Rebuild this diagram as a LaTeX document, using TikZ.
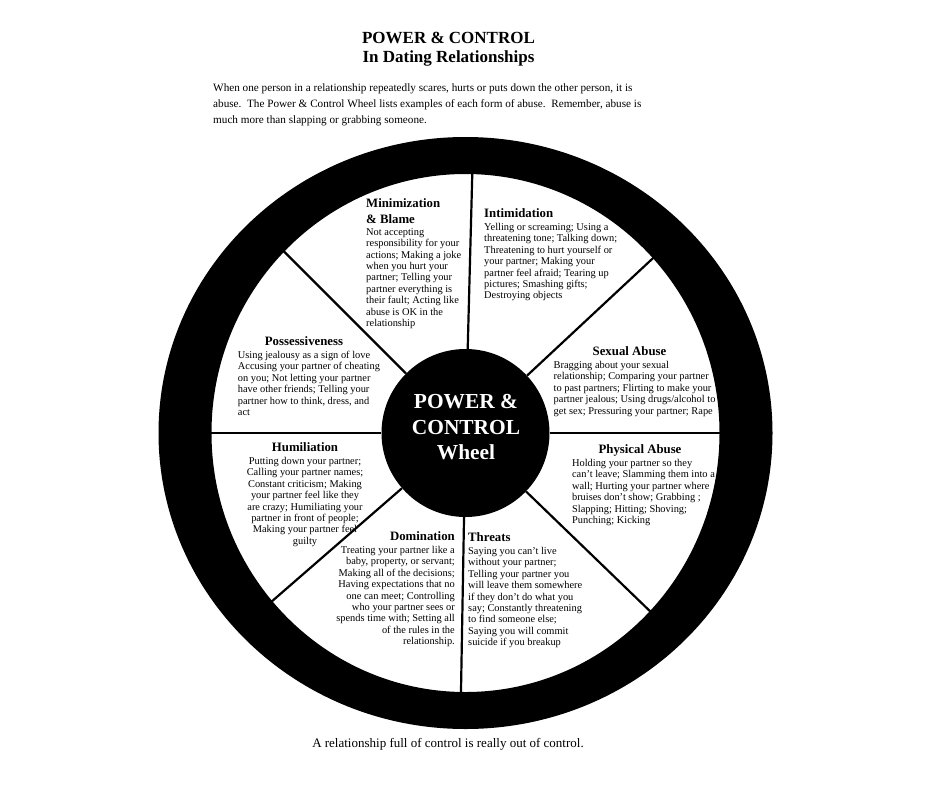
\documentclass[tikz,border=0pt]{standalone}
\usepackage{fontspec}
\setmainfont{Liberation Serif}
\usetikzlibrary{positioning, calc}

\begin{document}
\begin{tikzpicture}[
		x=1pt, y=-1pt,
		% estilos de la rueda
		head/.style = {font=\fontsize{12.8}{15.3}\selectfont\bfseries, inner sep=0pt, text depth=0pt},
		body/.style = {font=\fontsize{10.4}{11.4}\selectfont, inner sep=0pt, align=left},
		spoke/.style = {line width=2.2pt},
		hub/.style = {circle, fill=black, minimum size=168pt, inner sep=0pt},
		node distance=5pt
		]
		\useasboundingbox (0,0) rectangle (940,788);
		
		% --- TITULO ---
		\node [font=\fontsize{17}{19}\selectfont\bfseries, align=center, anchor=north] (title) at (448.5,29)
			{POWER \& CONTROL\\In Dating Relationships};
		\node [font=\fontsize{11.2}{16}\selectfont, align=left, anchor=north west, inner sep=0pt] (intro) at (213,84)
			{When one person in a relationship repeatedly scares, hurts or puts down the other person, it is\\
			abuse.\ \ The Power \& Control Wheel lists examples of each form of abuse.\ \ Remember, abuse is\\
			much more than slapping or grabbing someone.};
		
		% --- RUEDA ---
		\coordinate (c) at (465.5,433);
		\fill [even odd rule] (c) ellipse [x radius=307pt, y radius=296pt] (c) ellipse [x radius=254pt, y radius=259pt];
		\node [hub] (hub) at (c) {};
		\foreach \a [count=\i] in {88.5,43,0,-44,-91,-139,180,135}
			\coordinate (rim\i) at ($(c)+(\a:268pt)$);
		\foreach \i in {1,...,8}
			\draw [spoke] (hub) -- (rim\i);
		\node [font=\fontsize{21.4}{25.5}\selectfont\bfseries, text=white, align=center] (hubtext) at (466,427.5)
			{POWER \&\\CONTROL\\Wheel};
		
		% Minimizacion
		\node [head, align=left, anchor=north west] (mh) at (366,198.7) {Minimization\\\& Blame};
		\node [body, below right=5pt and 0pt of mh.south west] (mb)
			{Not accepting\\responsibility for your\\actions; Making a joke\\when you hurt your\\partner; Telling your\\partner everything is\\their fault; Acting like\\abuse is OK in the\\relationship};
		
		% Intimidacion
		\node [head, anchor=north west] (ih) at (484,208.7) {Intimidation};
		\node [body, below right=5pt and 0pt of ih.south west] (ib)
			{Yelling or screaming; Using a\\threatening tone; Talking down;\\Threatening to hurt yourself or\\your partner; Making your\\partner feel afraid; Tearing up\\pictures; Smashing gifts;\\Destroying objects};
		
		% Posesividad
		\node [head, anchor=north] (ph) at (304,336.7) {Possessiveness};
		\node [body, below right=5pt and -27pt of ph.south west] (pb)
			{Using jealousy as a sign of love\\Accusing your partner of cheating\\on you; Not letting your partner\\have other friends; Telling your\\partner how to think, dress, and\\act};
		
		% Abuso sexual
		\node [head, anchor=north] (sh) at (629.5,346.7) {Sexual Abuse};
		\node [body, below right=5pt and -39pt of sh.south west] (sb)
			{Bragging about your sexual\\relationship; Comparing your partner\\to past partners; Flirting to make your\\partner jealous; Using drugs/alcohol to\\get sex; Pressuring your partner; Rape};
		
		% Humillacion
		\node [head, anchor=north] (hh) at (305,442.7) {Humiliation};
		\node [body, align=center, below=5pt of hh] (hb)
			{Putting down your partner;\\Calling your partner names;\\Constant criticism; Making\\your partner feel like they\\are crazy; Humiliating your\\partner in front of people;\\Making your partner feel\\guilty};
		
		% Abuso fisico
		\node [head, anchor=north] (yh) at (640,444.7) {Physical Abuse};
		\node [body, below right=5pt and -26.5pt of yh.south west] (yb)
			{Holding your partner so they\\can't leave; Slamming them into a\\wall; Hurting your partner where\\bruises don't show; Grabbing ;\\Slapping; Hitting; Shoving;\\Punching; Kicking};
		
		% Dominacion
		\node [head, anchor=north east] (dh) at (455,531.7) {Domination};
		\node [body, align=right, below left=5pt and 0pt of dh.south east] (db)
			{Treating your partner like a\\baby, property, or servant;\\Making all of the decisions;\\Having expectations that no\\one can meet; Controlling\\who your partner sees or\\spends time with; Setting all\\of the rules in the\\relationship.};
		
		% Amenazas
		\node [head, anchor=north west] (th) at (468,532.7) {Threats};
		\node [body, below right=5pt and 0pt of th.south west] (tb)
			{Saying you can't live\\without your partner;\\Telling your partner you\\will leave them somewhere\\if they don't do what you\\say; Constantly threatening\\to find someone else;\\Saying you will commit\\suicide if you breakup};
		
		% Texto final
		\node [font=\fontsize{13}{15}\selectfont, anchor=base] (foot) at (448,747.5)
			{A relationship full of control is really out of control.};
		
	\end{tikzpicture}
\end{document}
